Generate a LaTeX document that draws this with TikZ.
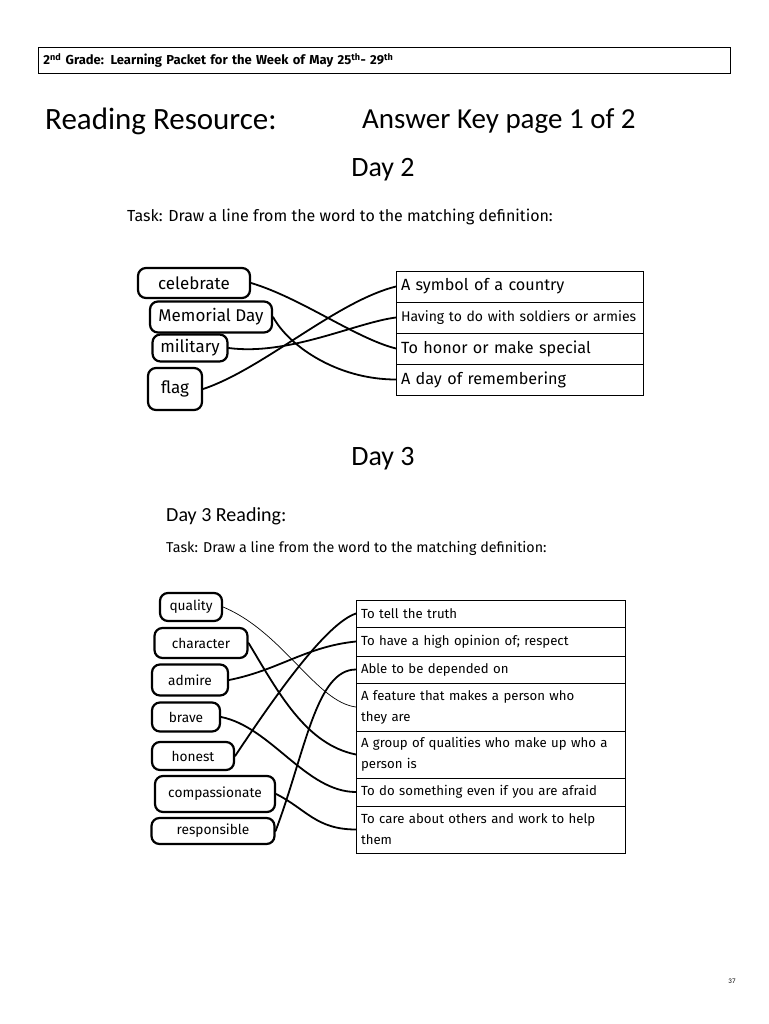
\documentclass[tikz,border=0pt]{standalone}
\usepackage{fontspec}
\setmainfont{Carlito}
\newfontfamily\comic{Fira Sans}
\usetikzlibrary{positioning}

\tikzset{
  wordblob/.style={draw, line width=2.2pt, rounded corners=8pt, inner sep=0pt},
  defrow/.style={draw, line width=0.8pt, outer sep=0pt, inner xsep=5pt, inner ysep=2pt, align=left},
  match/.style={line width=1.8pt, line cap=round},
  thinmatch/.style={line width=0.7pt, line cap=round},
}

\begin{document}
\begin{tikzpicture}[x=1pt,y=-1pt]
\useasboundingbox[fill=white] (0,0) rectangle (768,1024);

% header and titles
\node[draw, line width=0.8pt, anchor=north west, text width=682pt, inner xsep=5pt, minimum height=26pt, font=\comic\bfseries\fontsize{13}{14}\selectfont] (header) at (38,47) {2\textsuperscript{nd} Grade: Learning Packet for the Week of May 25\textsuperscript{th}- 29\textsuperscript{th}};
\node[anchor=west, inner sep=0pt, font=\fontsize{31}{33}\selectfont] (resource) at (45,121) {Reading Resource:};
\node[anchor=west, inner sep=0pt, font=\fontsize{29}{31}\selectfont] (key) at (362,121) {Answer Key page 1 of 2};
\node[inner sep=0pt, font=\fontsize{28}{30}\selectfont] (day2) at (383,170) {Day 2};
\node[anchor=west, inner sep=0pt, font=\comic\fontsize{16}{18}\selectfont] (task2) at (127,217) {Task: Draw a line from the word to the matching definition:};

% day 2 definitions
\begin{scope}[every node/.append style={defrow, text width=237pt, minimum height=31pt, font=\comic\fontsize{16.2}{18}\selectfont}]
\node[anchor=north west] (symbol) at (396,271) {A symbol of a country};
\node[below=0pt of symbol, font=\comic\fontsize{14}{16}\selectfont] (soldiers) {Having to do with soldiers or armies};
\node[below=0pt of soldiers] (honor) {To honor or make special};
\node[below=0pt of honor] (remember) {A day of remembering};
\end{scope}

% day 2 words
\begin{scope}[every node/.append style={wordblob, font=\comic\fontsize{17}{19}\selectfont}]
\node[minimum width=112pt, minimum height=30pt] (celebrate) at (194,283) {celebrate};
\node[minimum width=122pt, minimum height=31pt] (memorial) at (211,317) {Memorial Day};
\node[minimum width=75pt, minimum height=27pt] (military) at (190,348) {military};
\node[minimum width=54pt, minimum height=42pt] (flag) at (175,389) {flag};
\end{scope}

\draw[match] (celebrate.east) .. controls +(50,15) and +(-40,-10) .. (honor.west);
\draw[match] (memorial.east) .. controls +(15,28) and +(-60,0) .. (remember.west);
\draw[match] (military.east) .. controls +(60,8) and +(-40,5) .. (soldiers.west);
\draw[match] (flag.east) .. controls +(60,-20) and +(-60,15) .. (symbol.west);

\node[inner sep=0pt, font=\fontsize{28}{30}\selectfont] (day3) at (383,459) {Day 3};
\node[anchor=west, inner sep=0pt, font=\fontsize{20}{22}\selectfont] (reading3) at (166,516) {Day 3 Reading:};
\node[anchor=west, inner sep=0pt, font=\comic\fontsize{14.3}{16}\selectfont] (task3) at (166,548) {Task: Draw a line from the word to the matching definition:};

% day 3 definitions
\begin{scope}[every node/.append style={defrow, text width=259pt, font=\comic\fontsize{13.2}{21}\selectfont}]
\node[anchor=north west, minimum height=27pt] (truth) at (356,600) {To tell the truth};
\node[below=0pt of truth, minimum height=29pt] (opinion) {To have a high opinion of; respect};
\node[below=0pt of opinion, minimum height=27pt] (depended) {Able to be depended on};
\node[below=0pt of depended, minimum height=48pt] (feature) {A feature that makes a person who\\they are};
\node[below=0pt of feature, minimum height=47pt] (group) {A group of qualities who make up who a\\person is};
\node[below=0pt of group, minimum height=28pt] (afraid) {To do something even if you are afraid};
\node[below=0pt of afraid, minimum height=47pt] (care) {To care about others and work to help\\them};
\end{scope}

% day 3 words
\begin{scope}[every node/.append style={wordblob, font=\comic\fontsize{13.7}{15}\selectfont}]
\node[minimum width=62pt, minimum height=28pt] (quality) at (191,607) {quality};
\node[minimum width=93pt, minimum height=30pt] (character) at (201,643) {character};
\node[minimum width=76pt, minimum height=31pt] (admire) at (190,680) {admire};
\node[minimum width=68pt, minimum height=29pt] (brave) at (186,717) {brave};
\node[minimum width=82pt, minimum height=28pt] (honest) at (193,756) {honest};
\node[minimum width=120pt, minimum height=36pt] (compassionate) at (215,794) {compassionate};
\node[minimum width=123pt, minimum height=26pt] (responsible) at (213,831) {responsible};
\end{scope}

\draw[thinmatch] (quality.east) .. controls +(60,25) and +(-40,-5) .. (feature.west);
\draw[match] (character.east) .. controls +(30,50) and +(-50,-10) .. (group.west);
\draw[match] (admire.east) .. controls +(50,-10) and +(-50,5) .. (opinion.west);
\draw[match] (brave.east) .. controls +(50,10) and +(-50,0) .. (afraid.west);
\draw[match] (honest.east) .. controls +(40,-60) and +(-30,10) .. (truth.west);
\draw[match] (compassionate.east) .. controls +(30,15) and +(-40,0) .. (care.west);
\draw[match] (responsible.east) .. controls +(30,-80) and +(-40,0) .. (depended.west);

\node[inner sep=0pt, font=\fontsize{7}{8}\selectfont] (page) at (732,981) {37};
\end{tikzpicture}
\end{document}
